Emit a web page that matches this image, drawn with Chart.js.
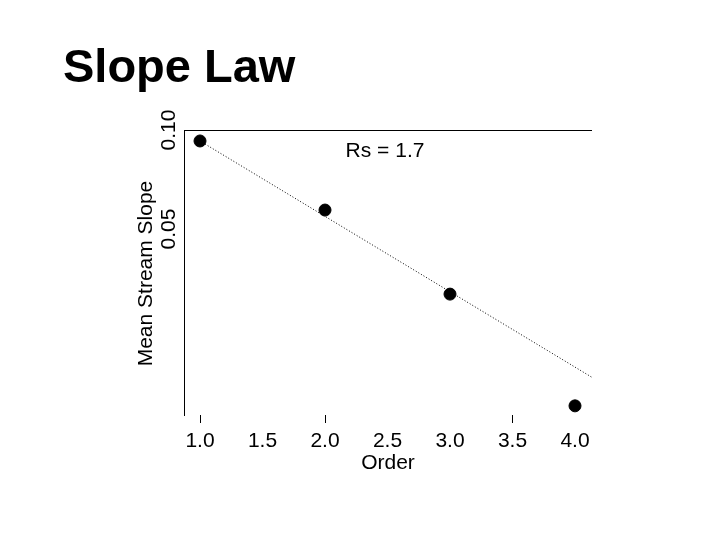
<!doctype html>
<html>
<head>
    <meta charset="utf-8" />
    <title>Slope Law</title>
    <script src="https://cdn.jsdelivr.net/npm/chart.js@4.4.1/dist/chart.umd.min.js"></script>
    <style>
        body { margin: 0; background: #fff; }
    </style>
</head>
<body>
    <canvas id="myChart" width="720" height="540"></canvas>
    <script>
        // stream order vs mean stream slope (log axis)
        var orders = [1, 2, 3, 4];
        var meanSlope = [0.0926, 0.0571, 0.0317, 0.0145];
        // fitted line, Rs = 1.7
        var fitOrders = [1, 4.136];
        var fitSlope = [0.0926, 0.0177];
        var xTickLabels = ['1.0', '1.5', '2.0', '2.5', '3.0', '3.5', '4.0'];
        var xTickMarks = [1, 2, 3.5];
        var yTickLabels = [0.10, 0.05];

        var FONT = "'Liberation Sans', Arial, sans-serif";

        var extras = {
            id: 'extras',
            afterDraw: function (chart) {
                var ctx = chart.ctx, area = chart.chartArea;
                var y = chart.scales.y;
                ctx.save();
                // top frame line
                ctx.strokeStyle = '#000';
                ctx.lineWidth = 1;
                ctx.beginPath();
                ctx.moveTo(area.left, area.top + 0.5);
                ctx.lineTo(area.right, area.top + 0.5);
                ctx.stroke();

                ctx.fillStyle = '#000';
                // title
                ctx.font = 'bold 47px ' + FONT;
                ctx.textAlign = 'left';
                ctx.textBaseline = 'alphabetic';
                ctx.fillText('Slope Law', 63, 82);

                // annotation
                ctx.font = '21px ' + FONT;
                ctx.textAlign = 'center';
                ctx.fillText('Rs = 1.7', 385, 157);

                // x axis title
                ctx.textBaseline = 'middle';
                ctx.fillText('Order', (area.left + area.right) / 2, 463);

                // rotated y tick labels and title
                yTickLabels.forEach(function (v) {
                    ctx.save();
                    ctx.translate(169, y.getPixelForValue(v));
                    ctx.rotate(-Math.PI / 2);
                    ctx.fillText(v.toFixed(2), 0, 0);
                    ctx.restore();
                });
                ctx.save();
                ctx.translate(146, (area.top + area.bottom) / 2 + 1);
                ctx.rotate(-Math.PI / 2);
                ctx.fillText('Mean Stream Slope', 0, 0);
                ctx.restore();
                ctx.restore();
            }
        };

        var chart = new Chart(document.getElementById('myChart'), {
            type: 'scatter',
            data: {
                datasets: [{
                    label: 'fit',
                    type: 'line',
                    data: fitOrders.map(function (x, i) { return { x: x, y: fitSlope[i] }; }),
                    borderColor: '#000',
                    borderWidth: 1,
                    borderDash: [1, 2],
                    pointRadius: 0,
                    fill: false
                }, {
                    label: 'slope',
                    data: orders.map(function (x, i) { return { x: x, y: meanSlope[i] }; }),
                    backgroundColor: '#000',
                    borderColor: '#000',
                    pointRadius: 6,
                    pointHoverRadius: 6
                }]
            },
            options: {
                responsive: false,
                animation: false,
                layout: { padding: { left: 0, right: 128, top: 130, bottom: 0 } },
                plugins: {
                    legend: { display: false },
                    tooltip: { enabled: false },
                    title: { display: false }
                },
                scales: {
                    x: {
                        type: 'linear',
                        min: 0.872,
                        max: 4.136,
                        afterFit: function (s) { s.height = 125; },
                        border: { display: false },
                        grid: {
                            drawOnChartArea: false,
                            tickLength: 8,
                            tickColor: function (c) {
                                return c.tick && xTickMarks.indexOf(c.tick.value) >= 0 ? '#000' : 'rgba(0,0,0,0)';
                            }
                        },
                        ticks: {
                            stepSize: 0.5,
                            includeBounds: false,
                            autoSkip: false,
                            maxRotation: 0,
                            padding: 6,
                            color: '#000',
                            font: { family: FONT, size: 21 },
                            callback: function (v) {
                                var i = Math.round((v - 1) / 0.5);
                                return xTickLabels[i];
                            }
                        }
                    },
                    y: {
                        type: 'logarithmic',
                        min: 0.0136,
                        max: 0.1,
                        afterFit: function (s) { s.width = 184; },
                        border: { display: true, color: '#000', width: 1 },
                        grid: { display: false },
                        ticks: { display: false }
                    }
                }
            },
            plugins: [extras]
        });
    </script>
</body>
</html>
